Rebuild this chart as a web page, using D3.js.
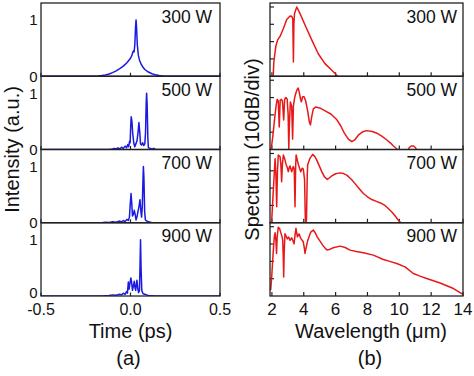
<!DOCTYPE html>
<html><head><meta charset="utf-8">
<script src="https://cdn.jsdelivr.net/npm/d3@7"></script>
<style>
html,body{margin:0;padding:0;background:#fff;}
svg{display:block;font-family:"Liberation Sans",Arial,sans-serif;}
</style></head>
<body>
<svg id="chart" width="474" height="376"></svg>
<script>
// ---- data ----
const powers = ["300 W", "500 W", "700 W", "900 W"];

// Time-domain pulses: [time (ps), intensity (a.u.)]
const pulse300 = [[-0.5,0],[-0.22,0],[-0.20,0.002],[-0.18,0.006],[-0.16,0.012],[-0.14,0.022],[-0.12,0.04],[-0.10,0.065],[-0.08,0.095],[-0.06,0.135],[-0.04,0.18],[-0.02,0.24],[-0.01,0.28],[0.0,0.32],[0.008,0.37],[0.013,0.43],[0.017,0.45],[0.020,0.43],[0.024,0.55],[0.028,0.86],[0.031,1.0],[0.034,0.86],[0.038,0.56],[0.044,0.37],[0.05,0.29],[0.06,0.21],[0.07,0.16],[0.08,0.12],[0.10,0.075],[0.12,0.045],[0.14,0.025],[0.16,0.012],[0.18,0.005],[0.20,0.001],[0.22,0],[0.5,0]];
const pulse500 = [[-0.5,0],[-0.12,0],[-0.10,0.01],[-0.09,0.02],[-0.08,0.01],[-0.07,0.03],[-0.06,0.01],[-0.05,0.04],[-0.04,0.02],[-0.03,0.06],[-0.022,0.03],[-0.015,0.09],[-0.010,0.05],[-0.005,0.15],[-0.002,0.12],[0.001,0.4],[0.004,0.58],[0.008,0.5],[0.012,0.3],[0.018,0.12],[0.024,0.05],[0.030,0.1],[0.036,0.15],[0.042,0.3],[0.047,0.48],[0.052,0.3],[0.056,0.1],[0.062,0.08],[0.068,0.12],[0.074,0.07],[0.080,0.1],[0.084,0.3],[0.088,0.85],[0.090,1.0],[0.093,0.8],[0.097,0.2],[0.100,0.03],[0.11,0.02],[0.12,0.01],[0.13,0.02],[0.14,0],[0.5,0]];
const pulse700 = [[-0.5,0],[-0.16,0],[-0.14,0.01],[-0.12,0.005],[-0.10,0.02],[-0.08,0.01],[-0.06,0.03],[-0.05,0.015],[-0.04,0.04],[-0.03,0.02],[-0.02,0.06],[-0.012,0.04],[-0.006,0.1],[-0.002,0.3],[0.003,0.52],[0.007,0.35],[0.011,0.12],[0.016,0.15],[0.021,0.22],[0.026,0.15],[0.031,0.05],[0.036,0.1],[0.042,0.2],[0.048,0.3],[0.053,0.41],[0.058,0.2],[0.062,0.1],[0.066,0.3],[0.070,0.8],[0.072,1.0],[0.075,0.8],[0.079,0.2],[0.083,0.05],[0.09,0.03],[0.10,0.02],[0.11,0.01],[0.12,0],[0.5,0]];
const pulse900 = [[-0.5,0],[-0.16,0],[-0.14,0.005],[-0.12,0.01],[-0.10,0.02],[-0.08,0.015],[-0.06,0.03],[-0.05,0.02],[-0.04,0.05],[-0.03,0.03],[-0.022,0.08],[-0.017,0.05],[-0.012,0.25],[-0.008,0.12],[-0.004,0.2],[0.002,0.32],[0.006,0.25],[0.011,0.1],[0.016,0.18],[0.021,0.26],[0.025,0.15],[0.029,0.1],[0.033,0.22],[0.036,0.28],[0.040,0.15],[0.045,0.06],[0.050,0.1],[0.053,0.5],[0.056,1.0],[0.059,0.5],[0.063,0.1],[0.07,0.04],[0.08,0.03],[0.09,0.02],[0.10,0.01],[0.12,0.005],[0.14,0],[0.5,0]];

// Spectra: [wavelength (um), level (dB)]
const spec300 = [[2.08,-40],[2.12,-32],[2.24,-23],[2.36,-19],[2.51,-17],[2.72,-12.4],[2.93,-7.2],[3.14,-5.2],[3.24,-5.3],[3.31,-6.8],[3.35,-31.7],[3.38,-10],[3.42,-3.7],[3.56,0],[3.76,-3.7],[4.08,-10.4],[4.5,-19],[4.91,-27],[5.33,-32.7],[5.76,-36.5],[6.13,-40]];
const spec500 = [[1.95,-40],[2.05,-33],[2.15,-24],[2.26,-15],[2.33,-11],[2.4,-12],[2.46,-27],[2.52,-11.5],[2.6,-11],[2.66,-12],[2.74,-23],[2.8,-11],[2.88,-10],[2.96,-11],[3.02,-20],[3.06,-39.5],[3.1,-25],[3.16,-12.5],[3.24,-15],[3.3,-34],[3.35,-15],[3.42,-10.5],[3.5,-7.5],[3.58,-5.5],[3.65,-4.5],[3.72,-7],[3.8,-11],[3.85,-12.5],[3.93,-9.5],[4.02,-9.5],[4.12,-12],[4.25,-18],[4.35,-24],[4.42,-25.8],[4.5,-21],[4.6,-16.5],[4.75,-15.5],[5.0,-16],[5.4,-18],[5.7,-19.5],[6.05,-22.5],[6.3,-26],[6.55,-30.5],[6.8,-34],[7.02,-35.5],[7.2,-34.5],[7.44,-31.6],[7.7,-29.8],[7.96,-29.1],[8.3,-29.6],[8.59,-30.6],[8.9,-32.3],[9.22,-34.5],[9.45,-36.3],[9.63,-38],[9.8,-39.3],[9.94,-40.5],[10.2,-42],[10.5,-41],[10.62,-39],[10.75,-38],[10.9,-38],[11.02,-39],[11.15,-41],[11.3,-43]];
const spec700 = [[1.98,-40],[2.09,-21],[2.2,-3],[2.25,-12],[2.3,-30.8],[2.35,-10],[2.4,-0.9],[2.51,-1.8],[2.56,-6],[2.61,-16.3],[2.66,-6],[2.72,-0.9],[2.8,-3],[2.89,-6.3],[2.96,-8],[3.03,-10.5],[3.09,-8],[3.14,-7.2],[3.24,-10.5],[3.34,-7.5],[3.4,-9],[3.45,-30.8],[3.49,-8],[3.52,-0.9],[3.66,-6.3],[3.81,-10.5],[3.9,-8.5],[3.97,-9],[4.05,-15],[4.1,-38],[4.13,-42],[4.17,-38],[4.22,-12],[4.25,-6.3],[4.39,-2.8],[4.56,-0.5],[4.7,-1.8],[4.81,-3.7],[5.13,-10.5],[5.3,-13.5],[5.48,-15],[5.62,-14],[5.76,-12.9],[6.0,-11.7],[6.28,-11.2],[6.5,-11.6],[6.7,-12.5],[7.0,-15],[7.22,-17.4],[7.5,-20.5],[7.74,-23.1],[8.0,-25],[8.27,-26.6],[8.6,-27.8],[8.9,-28.9],[9.1,-30],[9.31,-31.8],[9.5,-33.5],[9.63,-34.8],[9.8,-36.8],[9.94,-38.6],[10.1,-40],[11.1,-40]];
const spec900 = [[1.92,-36.7],[1.98,-30],[2.03,-22.2],[2.1,-12],[2.15,-5.8],[2.2,-3.5],[2.25,-8],[2.29,-15.4],[2.33,-6],[2.4,-0.3],[2.48,-1],[2.55,-3.1],[2.64,-6],[2.68,-7.9],[2.72,-20],[2.74,-29],[2.77,-15],[2.82,-4.1],[2.9,-5.5],[2.97,-7],[3.05,-6],[3.14,-7.9],[3.24,-6.4],[3.32,-8],[3.39,-9.9],[3.45,-5],[3.51,-0.9],[3.6,-5.8],[3.7,-4.1],[3.78,-6],[3.83,-7],[3.97,-8.7],[4.03,-12],[4.08,-15.4],[4.15,-12],[4.25,-7.9],[4.44,-3.1],[4.6,-1.9],[4.72,-3.5],[4.85,-6],[5.19,-10.6],[5.35,-12.5],[5.48,-13.5],[5.65,-13],[5.86,-12.1],[6.28,-11.2],[6.6,-12],[6.91,-13.5],[7.3,-14.3],[7.74,-15],[8.37,-16.4],[9.0,-18.9],[9.4,-20],[9.84,-21.2],[10.36,-23.2],[10.88,-27],[11.3,-28.5],[11.72,-29.9],[12.56,-32.5],[13.4,-35.7],[14,-39]];

const timeTicks = [-0.5, 0.0, 0.5];
const timeTickLabels = ["-0.5", "0.0", "0.5"];
const intensityTicks = [0, 1];
const wlTicks = [2, 4, 6, 8, 10, 12, 14];
const dbTicks = [-30, -20, -10, 0];

const pulses = [pulse300, pulse500, pulse700, pulse900];
const spectra = [spec300, spec500, spec700, spec900];

// ---- layout ----
const svg = d3.select("#chart");
const top0 = 3, bottom0 = 296;
const panelH = (bottom0 - top0) / 4;
const frameColor = "#222";
const blue = "#1a1ae0", red = "#e81818";

const xA = d3.scaleLinear().domain([-0.5, 0.5]).range([41, 220]);
const xB = d3.scaleLinear().domain([1.88, 14]).range([270, 463]);

const defs = svg.append("defs");

function panelTop(i){ return top0 + i*panelH; }

// ---- panel (a) ----
pulses.forEach((data, i) => {
  const t = panelTop(i), b = t + panelH;
  const y = d3.scaleLinear().domain([0, 1.3]).range([b, t]);
  const id = "clipA" + i;
  defs.append("clipPath").attr("id", id).append("rect")
    .attr("x", xA.range()[0]).attr("y", t).attr("width", xA.range()[1]-xA.range()[0]).attr("height", panelH);
  const g = svg.append("g");
  timeTicks.forEach(v => {
    g.append("line").attr("x1", xA(v)).attr("x2", xA(v)).attr("y1", b).attr("y2", b-3.5)
      .attr("stroke", frameColor).attr("stroke-width", 1.2);
  });
  g.append("path").datum(data)
    .attr("clip-path", `url(#${id})`)
    .attr("fill", "none").attr("stroke", blue).attr("stroke-width", 1.5).attr("stroke-linejoin","round")
    .attr("d", d3.line().x(d => xA(d[0])).y(d => y(d[1])));
  g.append("rect").attr("x", xA.range()[0]).attr("y", t).attr("width", xA.range()[1]-xA.range()[0]).attr("height", panelH)
    .attr("fill", "none").attr("stroke", frameColor).attr("stroke-width", 1.3);
  intensityTicks.forEach(v => {
    const shift = (i === 3 && v === 0) ? -3 : 0;
    g.append("text").attr("x", 37.5).attr("y", y(v) + shift).attr("dy", "0.36em")
      .attr("text-anchor", "end").attr("font-size", 15).attr("fill", "#111").text(v);
  });
  g.append("text").attr("x", 212).attr("y", t + 19.5).attr("text-anchor", "end")
    .attr("font-size", 17.5).attr("fill", "#111").text(powers[i]);
});

timeTicks.forEach((v, k) => {
  svg.append("text").attr("x", xA(v)).attr("y", 314.5).attr("text-anchor", "middle")
    .attr("font-size", 16).attr("fill", "#111").text(timeTickLabels[k]);
});
svg.append("text").attr("x", xA(0)).attr("y", 337.5).attr("text-anchor", "middle")
  .attr("font-size", 20).attr("fill", "#111").text("Time (ps)");
svg.append("text").attr("x", xA(0)-2).attr("y", 365).attr("text-anchor", "middle")
  .attr("font-size", 20).attr("fill", "#111").text("(a)");
svg.append("text").attr("transform", `translate(18.5,${(top0+bottom0)/2}) rotate(-90)`)
  .attr("text-anchor", "middle").attr("font-size", 20).attr("fill", "#111").text("Intensity (a.u.)");

// ---- panel (b) ----
spectra.forEach((data, i) => {
  const t = panelTop(i), b = t + panelH;
  const y = d3.scaleLinear().domain([-40, 2.3]).range([b, t]);
  const id = "clipB" + i;
  defs.append("clipPath").attr("id", id).append("rect")
    .attr("x", xB.range()[0]).attr("y", t).attr("width", xB.range()[1]-xB.range()[0]).attr("height", panelH);
  const g = svg.append("g");
  wlTicks.forEach(v => {
    g.append("line").attr("x1", xB(v)).attr("x2", xB(v)).attr("y1", b).attr("y2", b-4)
      .attr("stroke", frameColor).attr("stroke-width", 1.2);
  });
  dbTicks.forEach(v => {
    g.append("line").attr("x1", xB.range()[0]).attr("x2", xB.range()[0]+4).attr("y1", y(v)).attr("y2", y(v))
      .attr("stroke", frameColor).attr("stroke-width", 1.2);
  });
  g.append("path").datum(data)
    .attr("clip-path", `url(#${id})`)
    .attr("fill", "none").attr("stroke", red).attr("stroke-width", 1.5).attr("stroke-linejoin","round")
    .attr("d", d3.line().x(d => xB(d[0])).y(d => y(d[1])));
  g.append("rect").attr("x", xB.range()[0]).attr("y", t).attr("width", xB.range()[1]-xB.range()[0]).attr("height", panelH)
    .attr("fill", "none").attr("stroke", frameColor).attr("stroke-width", 1.3);
  g.append("text").attr("x", 457).attr("y", t + 19.5).attr("text-anchor", "end")
    .attr("font-size", 17.5).attr("fill", "#111").text(powers[i]);
});

wlTicks.forEach(v => {
  svg.append("text").attr("x", xB(v)).attr("y", 315).attr("text-anchor", "middle")
    .attr("font-size", 17).attr("fill", "#111").text(v);
});
svg.append("text").attr("x", 371).attr("y", 338).attr("text-anchor", "middle")
  .attr("font-size", 20).attr("fill", "#111").text("Wavelength (\u03bcm)");
svg.append("text").attr("x", 370).attr("y", 365).attr("text-anchor", "middle")
  .attr("font-size", 20).attr("fill", "#111").text("(b)");
svg.append("text").attr("transform", `translate(258.5,${(top0+bottom0)/2}) rotate(-90)`)
  .attr("text-anchor", "middle").attr("font-size", 20).attr("fill", "#111").text("Spectrum (10dB/div)");
</script>
</body></html>
